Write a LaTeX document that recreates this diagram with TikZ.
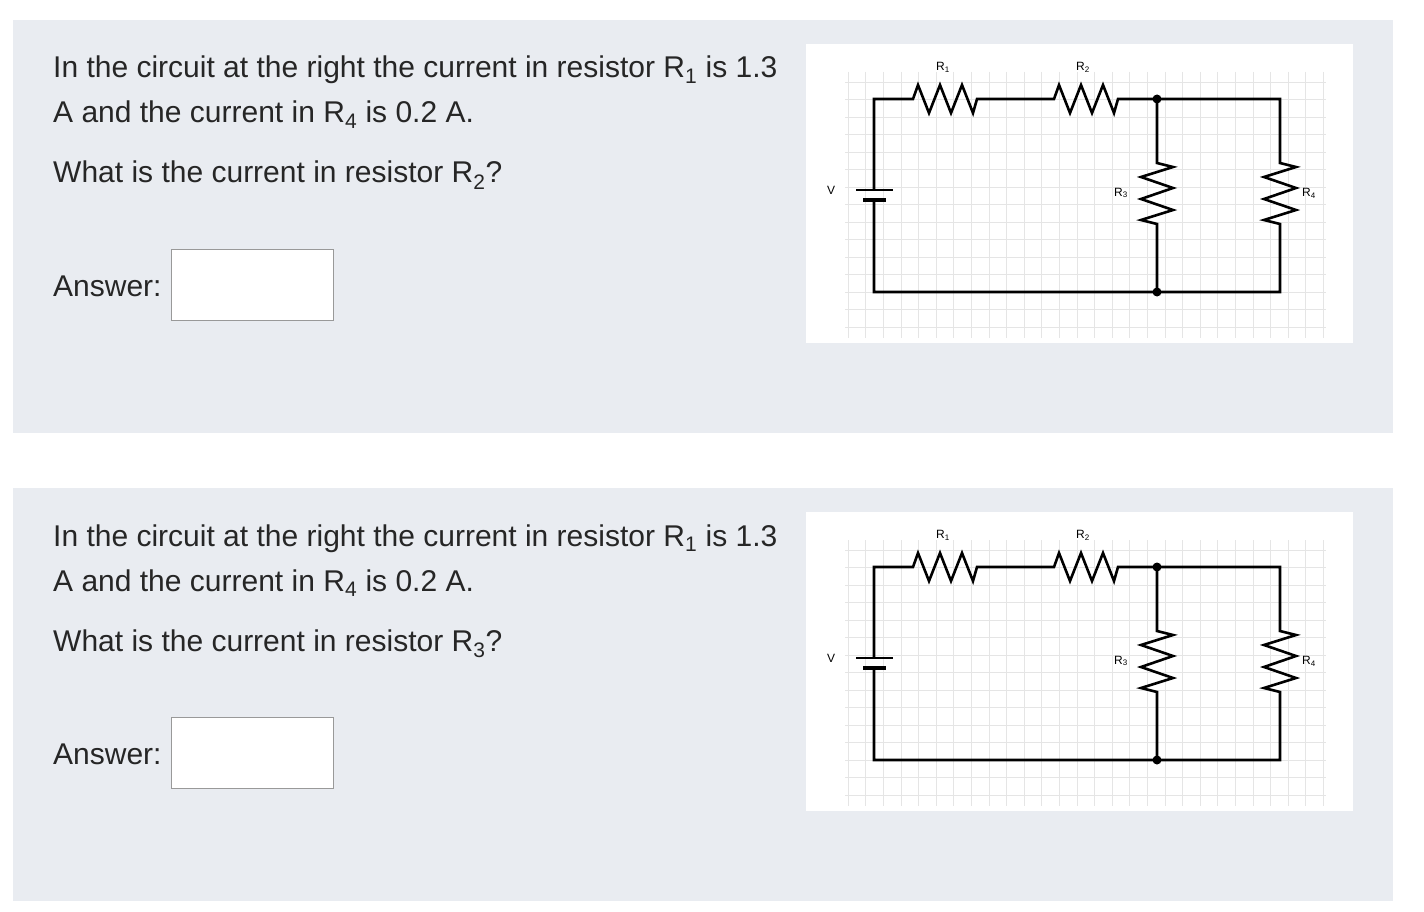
\documentclass[tikz,border=0pt]{standalone}
\usepackage{fontspec}
\setmainfont{Liberation Sans}
\begin{document}
\begin{tikzpicture}[x=1pt,y=-1pt,
  txt/.style={anchor=base west,font=\fontsize{30}{34}\selectfont,text=black!85,inner sep=0},
  lbl/.style={font=\fontsize{12}{13}\selectfont,inner sep=0},
  wire/.style={line width=2.6pt,line join=miter},
  grid/.style={draw=black!10,line width=0.6pt}]
\useasboundingbox (0,0) rectangle (1424,912);
\fill[white] (0,0) rectangle (1424,912);
\foreach \dy/\q in {0/2,468/3}{
\begin{scope}[yshift=-\dy pt]
  \fill[fill={rgb,255:red,233;green,236;blue,241}] (13,20) rectangle (1393,433);
  \node[txt] at (53,78) {In the circuit at the right the current in resistor R\textsubscript{1} is 1.3};
  \node[txt] at (53,123) {A and the current in R\textsubscript{4} is 0.2 A.};
  \node[txt] at (53,183) {What is the current in resistor R\textsubscript{\q}?};
  \node[txt] at (53,296) {Answer:};
  \draw[fill=white,draw=black!40,line width=1pt] (171,249) rectangle (333,320);
  \fill[white] (806,44) rectangle (1353,343);
  \foreach \i in {0,...,27} \draw[grid] (848+17.6*\i,72) -- (848+17.6*\i,338);
  \foreach \j in {0,...,14} \draw[grid] (845,82+17.5*\j) -- (1326,82+17.5*\j);
  \coordinate (tl) at (874,99); \coordinate (bl) at (874,292);
  \coordinate (jt) at (1157,99); \coordinate (jb) at (1157,292);
  \coordinate (tr) at (1280,99); \coordinate (br) at (1280,292);
  \draw[wire] (874,190) -- (tl) -- (913,99) -- ++(5,-14) -- ++(11,28) -- ++(11,-28) -- ++(11,28) -- ++(11,-28) -- ++(11,28) -- ++(4,-14)
     -- (1054,99) -- ++(5,-14) -- ++(11,28) -- ++(11,-28) -- ++(11,28) -- ++(11,-28) -- ++(11,28) -- ++(4,-14) -- (jt) -- (tr)
     -- (1280,163) -- ++(16,4) -- ++(-32,10) -- ++(32,11) -- ++(-32,11) -- ++(32,11) -- ++(-32,10) -- ++(16,4) -- (br) -- (bl) -- (874,200);
  \draw[wire] (jt) -- (1157,163) -- ++(16,4) -- ++(-32,10) -- ++(32,11) -- ++(-32,11) -- ++(32,11) -- ++(-32,10) -- ++(16,4) -- (jb);
  \draw[line width=2pt] (856,190) -- (893,190);
  \draw[line width=4pt] (863,200) -- (886,200);
  \fill (jt) circle (4.5); \fill (jb) circle (4.5);
  \node[lbl] at (831,190) {V};
  \node[lbl] at (943,67) {R\textsubscript{1}};
  \node[lbl] at (1083,67) {R\textsubscript{2}};
  \node[lbl] at (1121,193) {R\textsubscript{3}};
  \node[lbl] at (1309,193) {R\textsubscript{4}};
\end{scope}}
\end{tikzpicture}
\end{document}
